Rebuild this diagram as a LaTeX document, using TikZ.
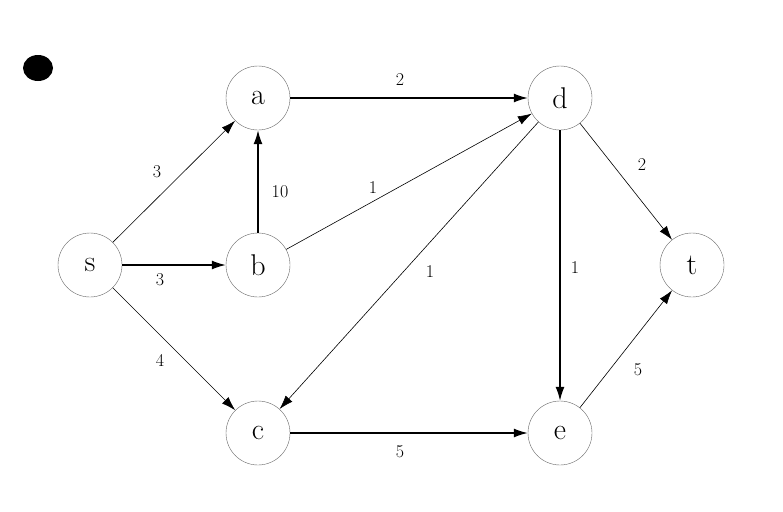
\documentclass[tikz,border=0pt]{standalone}
\usetikzlibrary{arrows.meta}
\begin{document}
\begin{tikzpicture}[x=1pt,y=-1pt,
  vert/.style={circle,draw=black!60,minimum size=64pt,inner sep=0pt,font=\fontsize{30}{30}\selectfont},
  thin edge/.style={draw,-{Latex[length=14pt,width=9pt]},line width=0.6pt},
  thick edge/.style={draw,-{Latex[length=14pt,width=9pt]},line width=1.5pt},
  lbl/.style={font=\fontsize{18}{18}\selectfont}]
\useasboundingbox (0,0) rectangle (783,511);
\fill (38,68) ellipse (15 and 13);
\node[vert] (a) at (258,98) {a};
\node[vert] (d) at (560,98) {d};
\node[vert] (s) at (90,265) {s};
\node[vert] (b) at (258,265) {b};
\node[vert] (t) at (692,265) {t};
\node[vert] (c) at (258,433) {c};
\node[vert] (e) at (560,433) {e};
\draw[thick edge] (a) -- (d);
\draw[thick edge] (b) -- (a);
\draw[thick edge] (s) -- (b);
\draw[thick edge] (d) -- (e);
\draw[thick edge] (c) -- (e);
\draw[thin edge] (s) -- (a);
\draw[thin edge] (s) -- (c);
\draw[thin edge] (b) -- (d);
\draw[thin edge] (d) -- (c);
\draw[thin edge] (d) -- (t);
\draw[thin edge] (e) -- (t);
\node[lbl] (l1) at (400,80) {2};
\node[lbl] (l2) at (157,172) {3};
\node[lbl] (l3) at (280,192) {10};
\node[lbl] (l4) at (373,188) {1};
\node[lbl] (l5) at (160,280) {3};
\node[lbl] (l6) at (160,360) {4};
\node[lbl] (l7) at (430,272) {1};
\node[lbl] (l8) at (575,268) {1};
\node[lbl] (l9) at (642,165) {2};
\node[lbl] (l10) at (638,370) {5};
\node[lbl] (l11) at (400,452) {5};
\end{tikzpicture}
\end{document}
